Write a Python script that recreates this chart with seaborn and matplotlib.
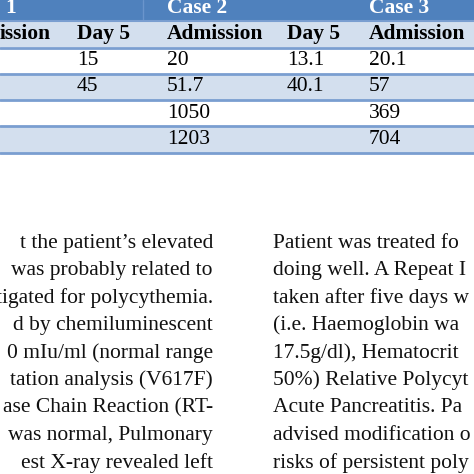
import matplotlib
matplotlib.use("Agg")
import matplotlib.pyplot as plt
import seaborn as sns

sns.set_theme(style="white")
plt.rcParams['font.family'] = ['Liberation Serif', 'DejaVu Serif']

case_headers = ["1", "Case 2", "Case 3"]
sub_headers = ["ission", "Day 5", "Admission", "Day 5", "Admission"]
rows = [
    ["", "15", "20", "13.1", "20.1"],
    ["", "45", "51.7", "40.1", "57"],
    ["", "", "1050", "", "369"],
    ["", "", "1203", "", "704"],
]
left_lines = [
    "t the patient\u2019s elevated",
    "was probably related to",
    "tigated for polycythemia.",
    "d by chemiluminescent",
    "0 mIu/ml (normal range",
    "tation analysis (V617F)",
    "ase Chain Reaction (RT-",
    "was normal, Pulmonary",
    "est X-ray revealed left",
]
right_lines = [
    "Patient was treated fo",
    "doing well. A Repeat I",
    "taken after five days w",
    "(i.e. Haemoglobin wa",
    "17.5g/dl), Hematocrit",
    "50%) Relative Polycyt",
    "Acute Pancreatitis. Pa",
    "advised modification o",
    "risks of persistent poly",
    "Patient is on regular",
]

fig = plt.figure(figsize=(4.74, 4.74), dpi=100)
ax = fig.add_axes([0, 0, 1, 1])
ax.set_xlim(0, 474)
ax.set_ylim(474, 0)
ax.axis("off")

dark = "#4F81BD"
light = "#D3DFEE"
line = "#7A9ED0"
fs = 15.5

ax.add_patch(plt.Rectangle((0, 0), 474, 20, color=dark, lw=0))
ax.plot([143, 143], [0, 20], color="#6A95CC", lw=1)
for x, t in zip([5, 167, 369], case_headers):
    ax.text(x, 8, t, color="white", fontsize=fs, fontweight="bold", va="center", ha="left")
ax.add_patch(plt.Rectangle((0, 20), 474, 27, color=light, lw=0))
colx = [0, 77, 167, 287, 369]
for x, t in zip(colx, sub_headers):
    ax.text(x, 34, t, color="black", fontsize=fs, fontweight="bold", va="center", ha="left")
ax.plot([0, 474], [20.5, 20.5], color=line, lw=1.5)
ax.plot([0, 474], [47.5, 47.5], color=line, lw=2)
y0 = 47.5
for i, r in enumerate(rows):
    top = y0 + 26.3 * i
    if i % 2 == 1:
        ax.add_patch(plt.Rectangle((0, top), 474, 26.3, color=light, lw=0))
    for x, t in zip(colx, r):
        ax.text(x, top + 13, t, color="black", fontsize=fs, va="center", ha="left")
    ax.plot([0, 474], [top + 26.3, top + 26.3], color=line, lw=2)

for i, t in enumerate(left_lines):
    ax.text(213, 243 + 27.5 * i, t, fontsize=fs, va="center", ha="right", color="#111111")
for i, t in enumerate(right_lines):
    ax.text(273, 243 + 27.5 * i, t, fontsize=fs, va="center", ha="left", color="#111111")

fig.savefig("out.png", dpi=100)
